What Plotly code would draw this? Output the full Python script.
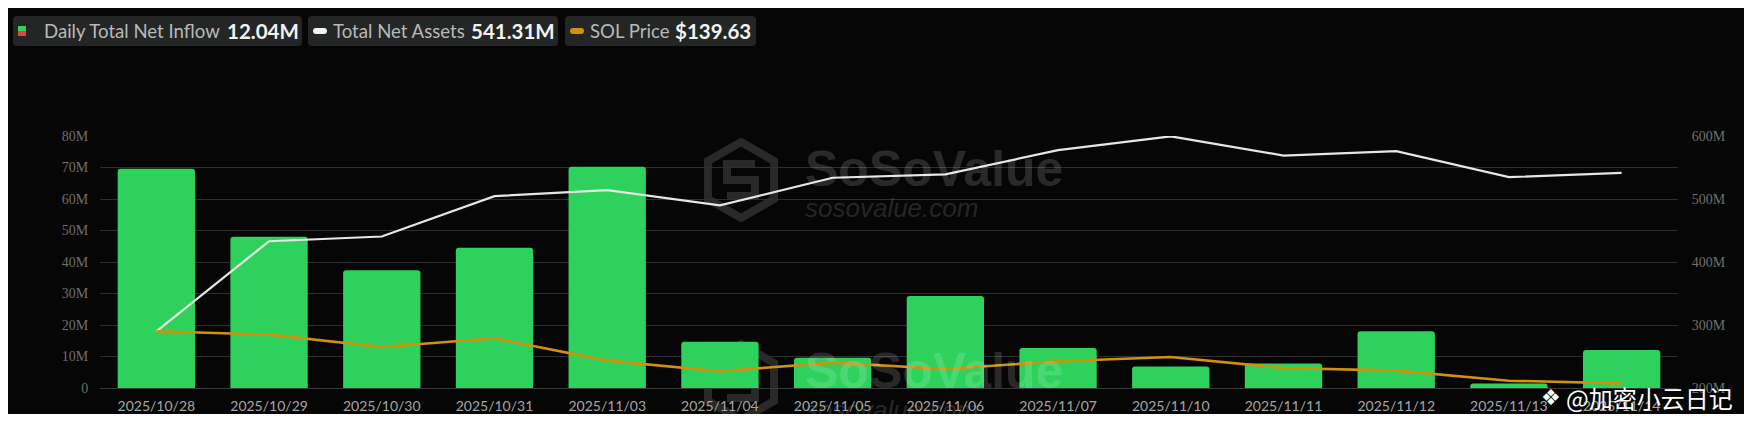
import plotly.graph_objects as go

# ---------------- data ----------------
dates = ['2025/10/28', '2025/10/29', '2025/10/30', '2025/10/31', '2025/11/03',
         '2025/11/04', '2025/11/05', '2025/11/06', '2025/11/07', '2025/11/10',
         '2025/11/11', '2025/11/12', '2025/11/13', '2025/11/14']
net_inflow_m = [69.6, 48.0, 37.4, 44.5, 70.2, 14.7, 9.6, 29.2, 12.7, 6.8, 7.8, 18.0, 1.4, 12.04]
net_assets_m = [290, 433, 440.5, 504.6, 514, 490, 533.7, 539, 577.6, 599.5, 569, 576, 534.7, 541.31]
sol_price = [195.8, 192.2, 178.9, 188.2, 164.1, 152.6, 162.0, 155.1, 163.4, 168.1, 156.2, 153.3, 142.5, 139.63]

left_ticks = [0, 10, 20, 30, 40, 50, 60, 70, 80]
left_ticktext = ['0', '10M', '20M', '30M', '40M', '50M', '60M', '70M', '80M']
right_ticks = [200, 300, 400, 500, 600]
right_ticktext = ['200M', '300M', '400M', '500M', '600M']

legend_labels = ['Daily Total Net Inflow', 'Total Net Assets', 'SOL Price']
legend_values = ['12.04M', '541.31M', '$139.63']

# ---------------- geometry ----------------
# page body has an 8px margin; figure origin sits at page (8, 8) and fits the page exactly
OFF = 8
W, H = 1736, 406
L, R, T, B = 92, 66, 128, 26
PW, PH = W - L - R, H - T - B


def px(x):  # x in page pixels -> paper
    return (x - OFF - L) / PW


def py(y):  # y in page pixels (from top) -> paper
    return (H - B - (y - OFF)) / PH


def rrect(x0, y0, x1, y1, r):
    pts = [
        ('M', x0 + r, y0), ('L', x1 - r, y0), ('Q', x1, y0, x1, y0 + r),
        ('L', x1, y1 - r), ('Q', x1, y1, x1 - r, y1), ('L', x0 + r, y1),
        ('Q', x0, y1, x0, y1 - r), ('L', x0, y0 + r), ('Q', x0, y0, x0 + r, y0),
    ]
    s = ''
    for p in pts:
        cmd = p[0]
        coords = p[1:]
        parts = []
        for i in range(0, len(coords), 2):
            parts.append(f'{px(coords[i]):.6f},{py(coords[i + 1]):.6f}')
        s += cmd + ' ' + ' '.join(parts) + ' '
    return s + 'Z'


BG = '#060606'
GRID = '#2e2e2e'
GREEN = '#2ed15c'
ORANGE = '#d4900c'
WHITE_LINE = '#e6e6e6'

fig = go.Figure()

fig.add_trace(go.Bar(
    x=dates, y=net_inflow_m, name=legend_labels[0],
    marker=dict(color=GREEN, cornerradius=3, line=dict(width=0)),
    yaxis='y', hovertemplate='%{x}<br>%{y}M<extra></extra>',
))
fig.add_trace(go.Scatter(
    x=dates, y=net_assets_m, name=legend_labels[1], mode='lines',
    line=dict(color=WHITE_LINE, width=2.2), yaxis='y2',
))
fig.add_trace(go.Scatter(
    x=dates, y=sol_price, name=legend_labels[2], mode='lines',
    line=dict(color=ORANGE, width=2.6), yaxis='y3',
))

shapes = []
annotations = []

# watermark (top and bottom copies)
WM = 'rgba(255,255,255,0.14)'
for dy in (0, 202):
    cx, cy, rr = 741, 180 + dy, 38
    hexpts = [(cx, cy - rr), (cx + rr * 0.87, cy - rr / 2), (cx + rr * 0.87, cy + rr / 2),
              (cx, cy + rr), (cx - rr * 0.87, cy + rr / 2), (cx - rr * 0.87, cy - rr / 2)]
    path = 'M ' + ' L '.join(f'{px(a):.6f},{py(b):.6f}' for a, b in hexpts) + ' Z'
    shapes.append(dict(type='path', path=path, xref='paper', yref='paper',
                       line=dict(color=WM, width=8), layer='below'))
    inner = [(cx + 14, cy - 16), (cx - 14, cy - 16), (cx - 14, cy), (cx + 14, cy),
             (cx + 14, cy + 16), (cx - 14, cy + 16)]
    ipath = 'M ' + ' L '.join(f'{px(a):.6f},{py(b):.6f}' for a, b in inner)
    shapes.append(dict(type='path', path=ipath, xref='paper', yref='paper',
                       line=dict(color=WM, width=8), layer='below'))
    annotations.append(dict(text='<b>SoSoValue</b>', x=px(803), y=py(169 + dy),
                            xref='paper', yref='paper', xanchor='left', yanchor='middle',
                            showarrow=False,
                            font=dict(family='Liberation Sans, Arial', size=50, color=WM)))
    annotations.append(dict(text='<i>sosovalue.com</i>', x=px(803), y=py(208 + dy),
                            xref='paper', yref='paper', xanchor='left', yanchor='middle',
                            showarrow=False,
                            font=dict(family='Liberation Sans, Arial', size=26, color=WM)))

# legend boxes
boxes = [(13, 302), (308, 558), (565, 756)]
BOXC = '#242626'
for (x0, x1) in boxes:
    shapes.append(dict(type='path', path=rrect(x0, 16, x1, 46, 4), xref='paper', yref='paper',
                       fillcolor=BOXC, line=dict(width=0), layer='above'))

# icons
shapes.append(dict(type='rect', xref='paper', yref='paper', x0=px(18), x1=px(26),
                   y0=py(26), y1=py(31), fillcolor='#2ed15c', line=dict(width=0)))
shapes.append(dict(type='rect', xref='paper', yref='paper', x0=px(18), x1=px(26),
                   y0=py(31), y1=py(36), fillcolor='#e8423f', line=dict(width=0)))
shapes.append(dict(type='path', path=rrect(313, 28, 327, 34, 3), xref='paper', yref='paper',
                   fillcolor='#f2f2f2', line=dict(width=0)))
shapes.append(dict(type='path', path=rrect(570, 28, 584, 34, 3), xref='paper', yref='paper',
                   fillcolor=ORANGE, line=dict(width=0)))

label_x = [42, 331, 588]
value_x = [225, 469, 673]
for i in range(3):
    annotations.append(dict(text=legend_labels[i], x=px(label_x[i]), y=py(31),
                            xref='paper', yref='paper', xanchor='left', yanchor='middle',
                            showarrow=False,
                            font=dict(family='Lato, Open Sans, sans-serif', size=18.6, color='#b9b9b9')))
    annotations.append(dict(text='<b>' + legend_values[i] + '</b>', x=px(value_x[i]), y=py(31),
                            xref='paper', yref='paper', xanchor='left', yanchor='middle',
                            showarrow=False,
                            font=dict(family='Lato, Open Sans, sans-serif', size=20.5, color='#f2f2f2')))

# social watermark bottom-right
annotations.append(dict(text='❖', x=px(1551), y=py(397), xref='paper', yref='paper',
                        xanchor='center', yanchor='middle', showarrow=False,
                        font=dict(family='DejaVu Sans', size=22, color='#ffffff')))
annotations.append(dict(text='@加密小云日记', x=px(1564), y=py(397), xref='paper', yref='paper',
                        xanchor='left', yanchor='middle', showarrow=False,
                        font=dict(family='Noto Sans CJK SC', size=24, color='#ffffff')))

fig.update_layout(
    width=W, height=H,
    margin=dict(l=L, r=R, t=T, b=B, pad=0),
    paper_bgcolor=BG, plot_bgcolor=BG,
    showlegend=False,
    bargap=0.314,
    shapes=shapes,
    annotations=annotations,
    xaxis=dict(type='category', range=[-0.5, len(dates) - 0.5], showgrid=False,
               showline=True, linecolor='#3a3a3a', linewidth=1,
               ticks='outside', ticklen=5, tickcolor='rgba(0,0,0,0)',
               tickfont=dict(family='Lato, Open Sans, sans-serif', size=14, color='#a6a6a6'),
               zeroline=False, fixedrange=True, automargin=False),
    yaxis=dict(range=[0, 80], tickvals=left_ticks, ticktext=left_ticktext,
               showgrid=True, gridcolor=GRID, gridwidth=1, zeroline=False,
               ticks='outside', ticklen=8, tickcolor='rgba(0,0,0,0)',
               tickfont=dict(family='Liberation Serif, Times New Roman, serif', size=14, color='#6e6e6e'),
               showline=False, automargin=False),
    yaxis2=dict(range=[200, 600], tickvals=right_ticks, ticktext=right_ticktext,
                overlaying='y', side='right', showgrid=False, zeroline=False,
                ticks='outside', ticklen=10, tickcolor='rgba(0,0,0,0)',
                tickfont=dict(family='Liberation Serif, Times New Roman, serif', size=14, color='#6e6e6e'),
                showline=False, automargin=False),
    yaxis3=dict(range=[134.6, 406.4], overlaying='y', visible=False, showgrid=False,
                zeroline=False),
)

fig.write_html('out.html')
